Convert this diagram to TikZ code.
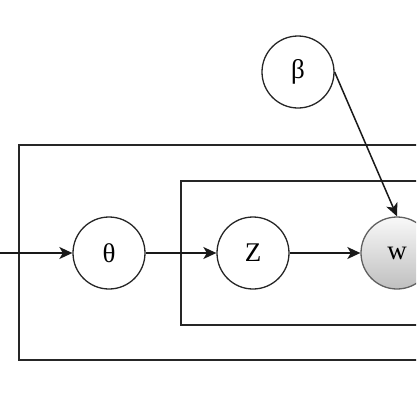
\documentclass[tikz,border=0pt]{standalone}
\usepackage{fontspec}
\setmainfont{Liberation Serif}
\usetikzlibrary{arrows.meta}
\begin{document}
\begin{tikzpicture}[x=1pt,y=-1pt,
  var/.style={circle,draw=black!85,line width=1.3pt,minimum size=72pt,inner sep=0pt,font=\fontsize{27}{30}\selectfont},
  obs/.style={var,top color=gray!5,bottom color=gray!50,draw=gray!75!black},
  plate/.style={draw=black!85,line width=1.7pt},
  edge/.style={line width=1.5pt,draw=black!90,-{Stealth[length=13pt,width=12pt,inset=3.5pt]}}]
\useasboundingbox (0,0) rectangle (416,416);
\begin{scope}
\clip (0,0) rectangle (416,416);
\draw[plate] (440,145) -- (19,145) -- (19,360) -- (440,360);
\draw[plate] (440,181) -- (181,181) -- (181,325) -- (440,325);
\node[var] (t) at (109,253) {θ};
\node[var] (z) at (253,253) {Z};
\node[obs] (w) at (397,253) {w};
\node[var] (b) at (298,72) {β};
\coordinate (in) at (0,253);
\draw[edge] (in) -- (t);
\draw[edge] (t) -- (z);
\draw[edge] (z) -- (w);
\draw[edge] (b.east) -- (w.north);
\end{scope}
\end{tikzpicture}
\end{document}
